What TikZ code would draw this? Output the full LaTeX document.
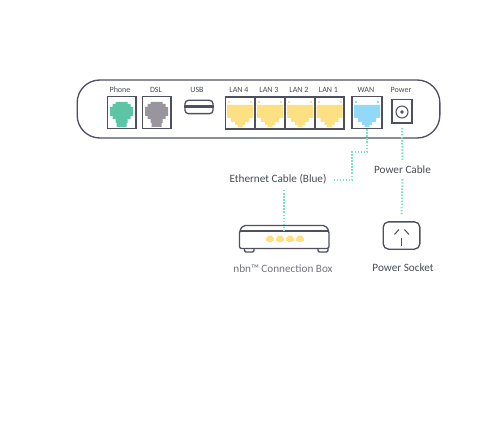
\documentclass[tikz,border=0pt]{standalone}
\usepackage{fontspec}
\setmainfont{Carlito}
\usepackage{tikz}
\usetikzlibrary{
  positioning,
  calc
}
\definecolor{outline}{RGB}{78,80,95}
\definecolor{labelgray}{RGB}{72,75,85}
\definecolor{softgray}{RGB}{115,118,125}
\definecolor{phonegreen}{RGB}{92,197,166}
\definecolor{dslgray}{RGB}{152,149,158}
\definecolor{lanyellow}{RGB}{253,224,130}
\definecolor{wanblue}{RGB}{146,216,248}
\definecolor{cablegreen}{RGB}{120,228,198}
\tikzset{
  rjsmall/.pic={\fill[#1] (-6,-11) -- (6,-11) -- (6,-9) -- (9,-9) -- (9,-6) -- (11.5,-6) -- (11.5,3) -- (9,3) -- (9,6) -- (6,6) -- (6,10) -- (5,10) -- (5,14) -- (-5,14) -- (-5,10) -- (-6,10) -- (-6,6) -- (-9,6) -- (-9,3) -- (-11.5,3) -- (-11.5,-6) -- (-9,-6) -- (-9,-9) -- (-6,-9) -- cycle;},
  rjwide/.pic={
    \fill[#1] (-13,-8) -- (13,-8) -- (13,5) -- (9,5) -- (9,9) -- (5,9) -- (5,12) -- (2.5,12) -- (2.5,14) -- (-2.5,14) -- (-2.5,12) -- (-5,12) -- (-5,9) -- (-9,9) -- (-9,5) -- (-13,5) -- cycle;
    \fill[#1] (-12,-11.5) rectangle (-10,-9.5);
    \fill[#1] (10,-11.5) rectangle (12,-9.5);
  },
  rjtiny/.pic={\fill[lanyellow] (-1.5,-3.5) -- (1.5,-3.5) -- (4,-0.5) -- (4,2) -- (2,2) -- (2,3) -- (-2,3) -- (-2,2) -- (-4,2) -- (-4,-0.5) -- cycle;}
}
\begin{document}
\begin{tikzpicture}[x=0.75pt, y=-0.75pt,
            portbox/.style={rectangle, draw=outline, line width=1pt, minimum width=21.5pt, minimum height=24pt, inner sep=0pt},
            smalllabel/.style={font=\fontsize{6}{7}\selectfont, text=labelgray, inner sep=0pt},
            biglabel/.style={font=\fontsize{8.4}{10}\selectfont, text=labelgray, inner sep=0pt},
            cable/.style={cablegreen, line width=1.5pt, dash pattern=on 1.1pt off 1.2pt}]
  \useasboundingbox (0,0) rectangle (500,428);
  % router body
  \node [draw=outline, line width=1pt, rounded corners=17pt, minimum width=272pt, minimum height=43.5pt, inner sep=0pt] (router) at (258.5,109) {};
  % ports
  \node [portbox] (phone) at (121.5,112.5) {};
  \node [portbox] (dsl) at (156.5,112.5) {};
  \node [draw=outline, line width=1pt, rounded corners=2.5pt, minimum width=21pt, minimum height=10pt, inner sep=0pt] (usb) at (199,107) {};
  \fill[outline] (usb.west |- 0,105.5) rectangle (usb.east |- 0,108.5);
  \foreach \name/\cx/\num in {lanfour/240/4, lanthree/270/3, lantwo/300/2, lanone/329.5/1} {
    \pic at (\cx,113) {rjwide=lanyellow};
    \node [portbox] (\name) at (\cx,113) {};
    \node [smalllabel] (\name label) at ($(\cx,90)+(-1,0)$) {LAN \num};
  }
  \pic at (367,113) {rjwide=wanblue};
  \node [portbox, minimum width=22.5pt] (wan) at (367,112.5) {};
  \node [portbox, minimum width=15pt, minimum height=17.5pt] (power) at (402,111.5) {};
  \node [circle, draw=outline, line width=0.8pt, minimum size=9pt, inner sep=0pt] (jack) at (402,112) {};
  \fill[outline] (jack) circle (1.8);
  \pic at (121.5,113) {rjsmall=phonegreen};
  \pic at (156.5,113) {rjsmall=dslgray};
  % port labels
  \node [smalllabel] (phonelabel) at (120,89.5) {Phone};
  \node [smalllabel] (dsllabel) at (156,90) {DSL};
  \node [smalllabel] (usblabel) at (197,90) {USB};
  \node [smalllabel] (wanlabel) at (366,90) {WAN};
  \node [smalllabel] (powerlabel) at (401,90) {Power};
  % lower labels
  \node [biglabel] (ethernet) at (278,179) {Ethernet Cable (Blue)};
  \node [biglabel] (powercable) at (402.5,170) {Power Cable};
  \node [biglabel] (powersocket) at (403,267.5) {Power Socket};
  \node [biglabel, text=softgray] (nbnlabel) at (283,269) {nbn™ Connection Box};
  % nbn box
  \draw[outline, line width=1pt, rounded corners=1.5pt] (239.5,231) -- (243,225.5) -- (325.5,225.5) -- (329,231) -- (329,248.5) -- (239.5,248.5) -- cycle;
  \draw[outline, line width=1pt] (239.5,231) -- (329,231);
  \draw[outline, line width=1pt, rounded corners=1pt] (244.5,248.5) -- (244.5,252) -- (254,252) -- (254,248.5);
  \draw[outline, line width=1pt, rounded corners=1pt] (318,248.5) -- (318,252) -- (328,252) -- (328,248.5);
  \foreach \cx in {270,280,290,300} {
    \pic at (\cx,239) {rjtiny};
  }
  % socket
  \node [draw=outline, line width=1pt, rounded corners=4pt, minimum width=27.5pt, minimum height=20.5pt, inner sep=0pt] (socket) at (401.5,235.5) {};
  \draw[outline, line width=0.8pt] (394.5,234.5) -- (399,229.5);
  \draw[outline, line width=0.8pt] (404.5,229.5) -- (409,234.5);
  \draw[outline, line width=0.8pt] (401.7,238) -- (401.7,246);
  % cables
  \coordinate (wanbend) at (367,152);
  \coordinate (wandrop) at (352,152);
  \coordinate (wanleft) at (352,180);
  \coordinate (boxtop) at (284,190);
  \coordinate (boxend) at (284,232);
  \draw[cable] (wan.south) -- (wanbend) -- (wandrop) -- (wanleft) -- ($(ethernet.east |- wanleft)+(7,0)$);
  \draw[cable] (boxtop) -- (boxend);
  \draw[cable] (power.south) ++(0,4) -- ($(powercable.north)+(0,-5)$);
  \draw[cable] ($(powercable.south)+(0,5)$) -- ($(socket.north)+(0,-6)$);
\end{tikzpicture}
\end{document}
